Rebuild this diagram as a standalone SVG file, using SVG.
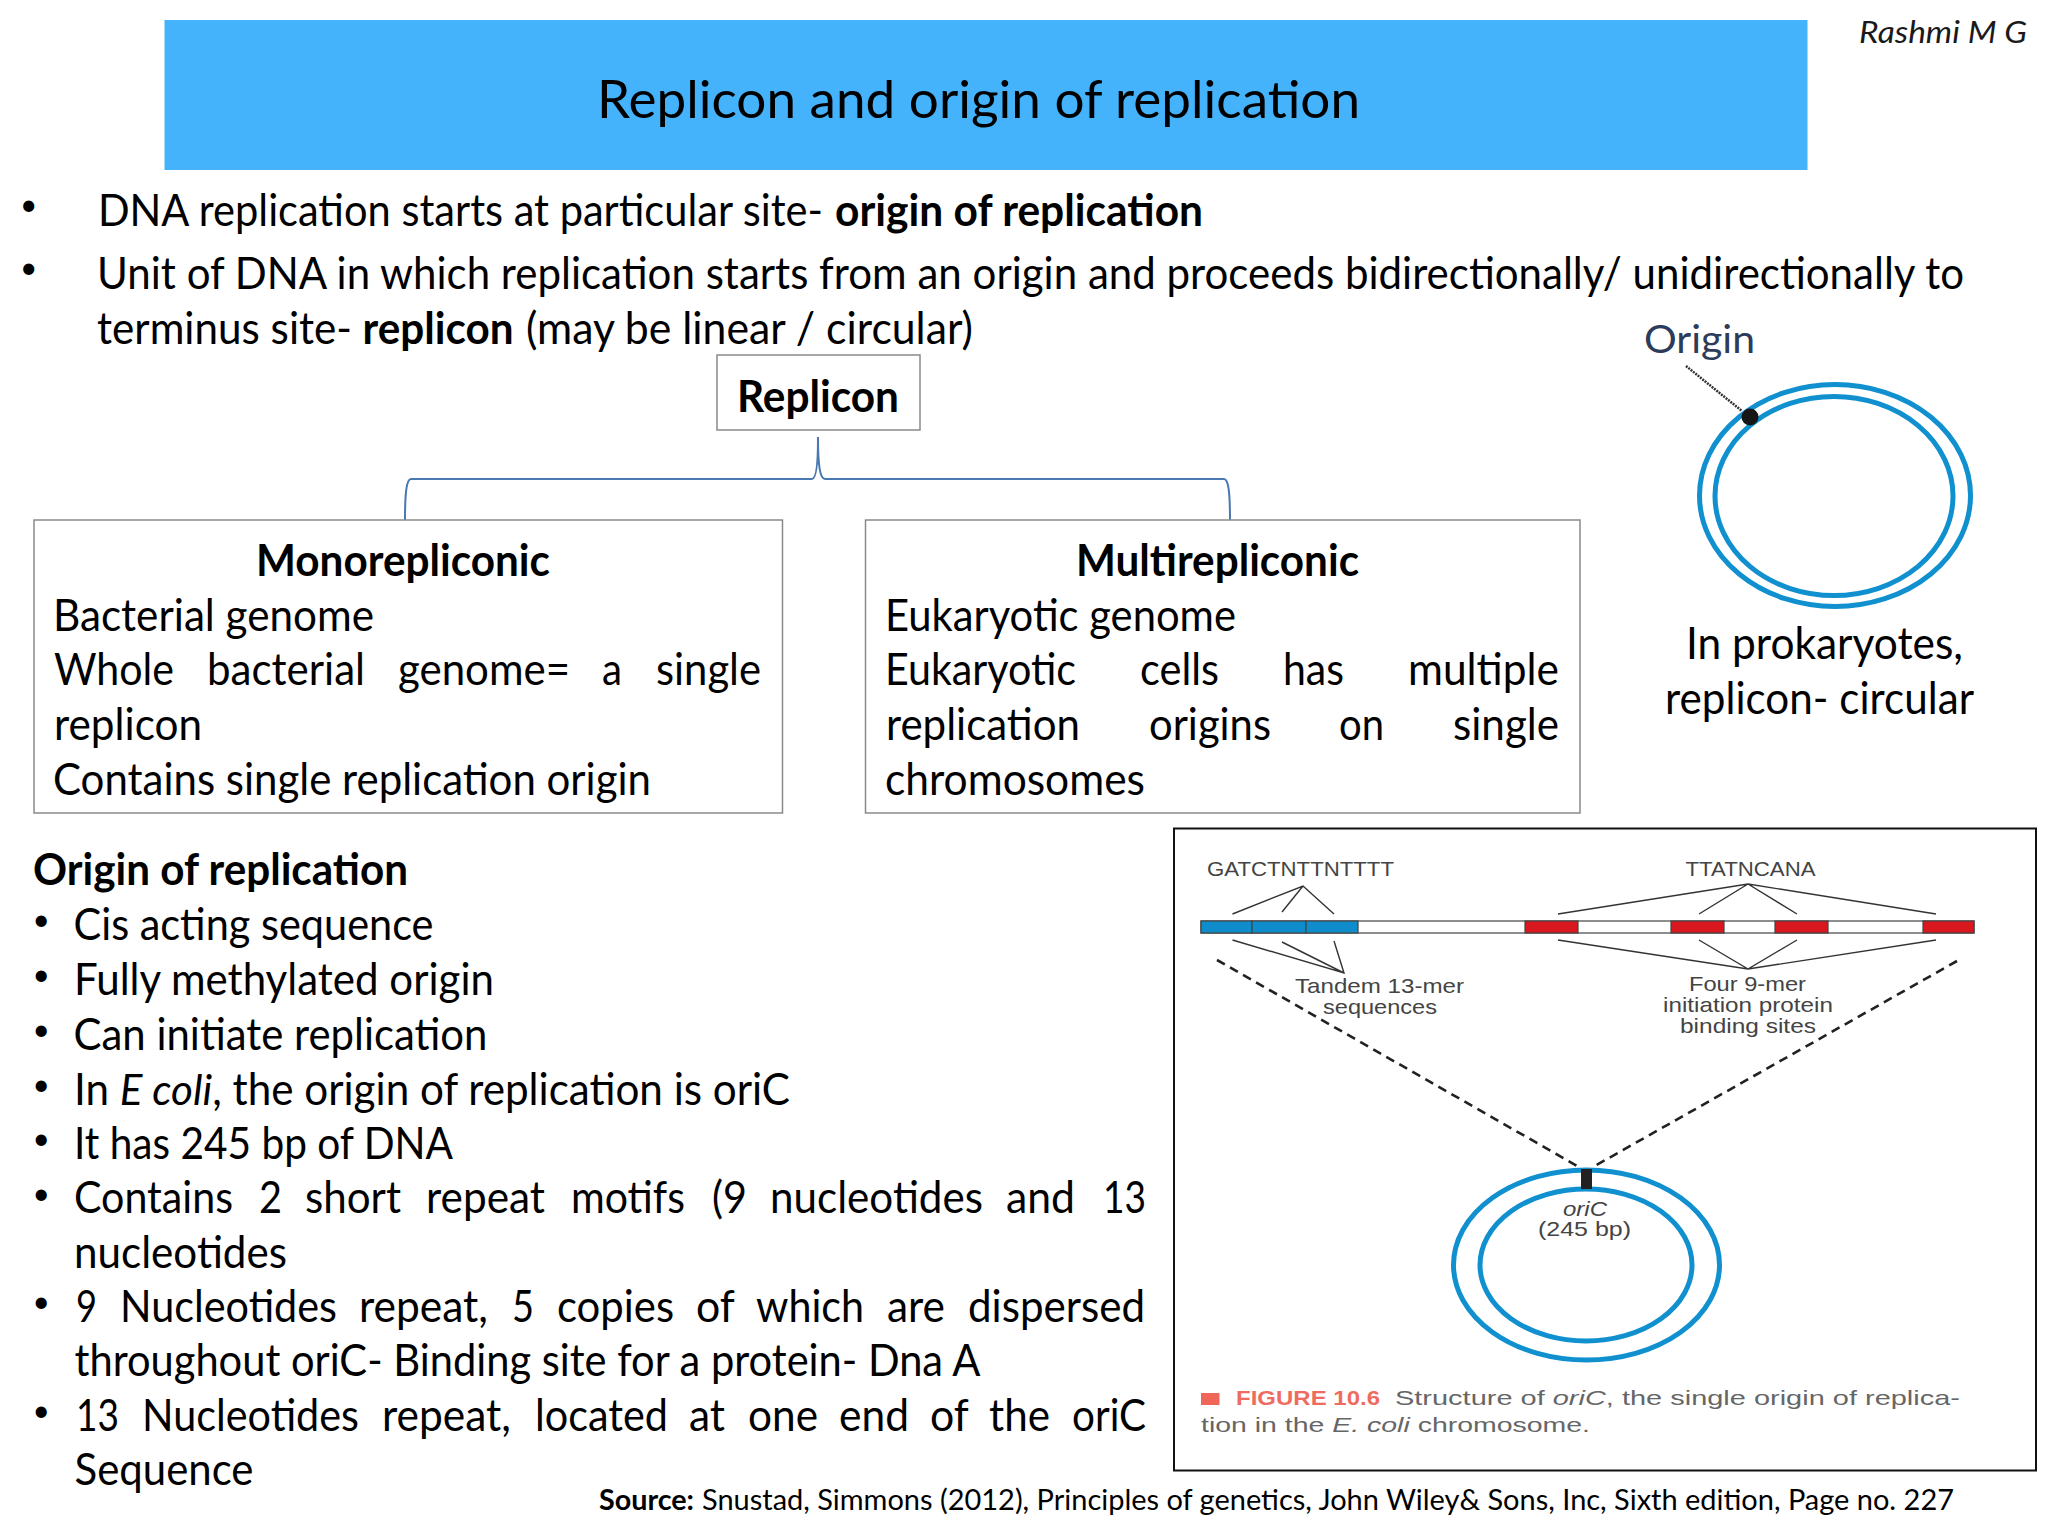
<svg xmlns="http://www.w3.org/2000/svg" width="2048" height="1536" viewBox="0 0 2048 1536">
<style>
text{font-family:"Lato","Carlito","Liberation Sans",sans-serif;fill:#000}
.b{font-size:43.5px}
.d{font-size:30px}
.h{font-weight:700}
.i{font-style:italic}
.box{fill:#fff;stroke:#8a8a8a;stroke-width:1.5}
.fig{font-family:"Liberation Sans",Arial,sans-serif;fill:#444}
.f{font-size:21px}
.cap{font-size:21px;fill:#666}
.thin{fill:none;stroke:#333;stroke-width:1.4}
.dash{fill:none;stroke:#222;stroke-width:2.6;stroke-dasharray:9 6}
.ring{fill:none;stroke:#1090cf;stroke-width:5}
</style>
<rect width="2048" height="1536" fill="#fff"/>
<g id="title"><rect x="164.500" y="20" width="1643" height="150" fill="#45b3fb"/>
<text x="597" y="118" font-size="53" textLength="763" lengthAdjust="spacingAndGlyphs">Replicon and origin of replication</text></g>
<text id="author" class="i" x="1859" y="43" font-size="30" textLength="168" lengthAdjust="spacingAndGlyphs" style="fill:#1a1a1a">Rashmi M G</text>
<g id="intro">
<text class="d" x="20" y="215">•</text>
<text class="b" y="226"><tspan x="98" textLength="725" lengthAdjust="spacingAndGlyphs">DNA replication starts at particular site-</tspan> <tspan class="h" x="835" textLength="368" lengthAdjust="spacingAndGlyphs">origin of replication</tspan></text>
<text class="d" x="20" y="278">•</text>
<text class="b" x="97" y="289" textLength="1867" lengthAdjust="spacingAndGlyphs">Unit of DNA in which replication starts from an origin and proceeds bidirectionally/ unidirectionally to</text>
<text class="b" y="344"><tspan x="97" textLength="255" lengthAdjust="spacingAndGlyphs">terminus site-</tspan> <tspan class="h" x="362.500" textLength="151" lengthAdjust="spacingAndGlyphs">replicon</tspan> <tspan x="526" textLength="447" lengthAdjust="spacingAndGlyphs">(may be linear / circular)</tspan></text>
</g>
<g id="connectors"><path d="M405 520C405 496 406 479 411 479L812 479C816 479 818 465 818 437C818 465 820 479 825 479L1224 479C1229 479 1230 496 1230 520" fill="none" stroke="#4a78b0" stroke-width="2"/></g>
<g id="replicon"><rect class="box" x="717" y="355" width="203" height="75"/>
<text class="b h" x="737" y="412" textLength="162" lengthAdjust="spacingAndGlyphs">Replicon</text></g>
<g id="monorepliconic"><rect class="box" x="34" y="520" width="748.500" height="293"/>
<text class="b h" x="256" y="576" textLength="294" lengthAdjust="spacingAndGlyphs">Monorepliconic</text>
<text class="b" x="53" y="631" textLength="321" lengthAdjust="spacingAndGlyphs">Bacterial genome</text>
<text class="b" y="685"><tspan x="54" textLength="120" lengthAdjust="spacingAndGlyphs">Whole</tspan> <tspan x="207" textLength="158" lengthAdjust="spacingAndGlyphs">bacterial</tspan> <tspan x="398" textLength="172" lengthAdjust="spacingAndGlyphs">genome=</tspan> <tspan x="602" textLength="20" lengthAdjust="spacingAndGlyphs">a</tspan> <tspan x="656" textLength="105" lengthAdjust="spacingAndGlyphs">single</tspan></text>
<text class="b" x="54" y="740" textLength="148" lengthAdjust="spacingAndGlyphs">replicon</text>
<text class="b" x="53" y="795" textLength="598" lengthAdjust="spacingAndGlyphs">Contains single replication origin</text></g>
<g id="multirepliconic"><rect class="box" x="865.500" y="520" width="714.500" height="293"/>
<text class="b h" x="1076" y="576" textLength="283" lengthAdjust="spacingAndGlyphs">Multirepliconic</text>
<text class="b" x="885" y="631" textLength="351" lengthAdjust="spacingAndGlyphs">Eukaryotic genome</text>
<text class="b" y="685"><tspan x="885" textLength="191" lengthAdjust="spacingAndGlyphs">Eukaryotic</tspan> <tspan x="1140" textLength="79" lengthAdjust="spacingAndGlyphs">cells</tspan> <tspan x="1283" textLength="61" lengthAdjust="spacingAndGlyphs">has</tspan> <tspan x="1408" textLength="151" lengthAdjust="spacingAndGlyphs">multiple</tspan></text>
<text class="b" y="740"><tspan x="886" textLength="194" lengthAdjust="spacingAndGlyphs">replication</tspan> <tspan x="1149" textLength="122" lengthAdjust="spacingAndGlyphs">origins</tspan> <tspan x="1339" textLength="45" lengthAdjust="spacingAndGlyphs">on</tspan> <tspan x="1453" textLength="106" lengthAdjust="spacingAndGlyphs">single</tspan></text>
<text class="b" x="885" y="795" textLength="260" lengthAdjust="spacingAndGlyphs">chromosomes</text></g>
<g id="prokaryote">
<text x="1644" y="353" font-size="38" textLength="111" lengthAdjust="spacingAndGlyphs" style="fill:#2d3c5a">Origin</text>
<path d="M1686 366L1742 411" stroke="#333" stroke-width="2.500" stroke-dasharray="2 1" fill="none"/>
<ellipse class="ring" cx="1835" cy="495.500" rx="135.500" ry="111"/>
<ellipse class="ring" cx="1834" cy="496" rx="119" ry="99.500"/>
<circle cx="1750" cy="417" r="8.500" fill="#161616"/>
<text class="b" x="1686" y="659" textLength="277" lengthAdjust="spacingAndGlyphs">In prokaryotes,</text>
<text class="b" x="1665" y="714" textLength="309" lengthAdjust="spacingAndGlyphs">replicon- circular</text></g>
<g id="origin-list">
<text class="b h" x="33" y="885" textLength="375" lengthAdjust="spacingAndGlyphs">Origin of replication</text>
<g>
<text class="d" x="32.500" y="930">•</text><text class="d" x="32.500" y="985">•</text><text class="d" x="32.500" y="1040">•</text><text class="d" x="32.500" y="1095">•</text><text class="d" x="32.500" y="1149">•</text><text class="d" x="32.500" y="1204">•</text><text class="d" x="32.500" y="1312">•</text><text class="d" x="32.500" y="1421">•</text>
</g>
<text class="b" x="73.500" y="940" textLength="360" lengthAdjust="spacingAndGlyphs">Cis acting sequence</text>
<text class="b" x="74" y="995" textLength="420" lengthAdjust="spacingAndGlyphs">Fully methylated origin</text>
<text class="b" x="73.500" y="1050" textLength="414" lengthAdjust="spacingAndGlyphs">Can initiate replication</text>
<text class="b" x="74" y="1104.500" textLength="716" lengthAdjust="spacingAndGlyphs">In <tspan class="i">E coli</tspan>, the origin of replication is oriC</text>
<text class="b" x="74" y="1159" textLength="379" lengthAdjust="spacingAndGlyphs">It has 245 bp of DNA</text>
<text class="b" y="1213"><tspan x="74" textLength="159" lengthAdjust="spacingAndGlyphs">Contains</tspan> <tspan x="259" textLength="23" lengthAdjust="spacingAndGlyphs">2</tspan> <tspan x="305" textLength="96" lengthAdjust="spacingAndGlyphs">short</tspan> <tspan x="426" textLength="119" lengthAdjust="spacingAndGlyphs">repeat</tspan> <tspan x="571" textLength="114" lengthAdjust="spacingAndGlyphs">motifs</tspan> <tspan x="712" textLength="35" lengthAdjust="spacingAndGlyphs">(9</tspan> <tspan x="770" textLength="213" lengthAdjust="spacingAndGlyphs">nucleotides</tspan> <tspan x="1006" textLength="69" lengthAdjust="spacingAndGlyphs">and</tspan> <tspan x="1103" textLength="43" lengthAdjust="spacingAndGlyphs">13</tspan></text>
<text class="b" x="74" y="1268" textLength="213" lengthAdjust="spacingAndGlyphs">nucleotides</text>
<text class="b" y="1322"><tspan x="76" textLength="21" lengthAdjust="spacingAndGlyphs">9</tspan> <tspan x="120" textLength="217" lengthAdjust="spacingAndGlyphs">Nucleotides</tspan> <tspan x="359" textLength="129" lengthAdjust="spacingAndGlyphs">repeat,</tspan> <tspan x="512" textLength="22" lengthAdjust="spacingAndGlyphs">5</tspan> <tspan x="557" textLength="117" lengthAdjust="spacingAndGlyphs">copies</tspan> <tspan x="696" textLength="38" lengthAdjust="spacingAndGlyphs">of</tspan> <tspan x="756" textLength="108" lengthAdjust="spacingAndGlyphs">which</tspan> <tspan x="887" textLength="58" lengthAdjust="spacingAndGlyphs">are</tspan> <tspan x="968" textLength="177" lengthAdjust="spacingAndGlyphs">dispersed</tspan></text>
<text class="b" x="74.500" y="1376" textLength="906" lengthAdjust="spacingAndGlyphs">throughout oriC- Binding site for a protein- Dna A</text>
<text class="b" y="1431"><tspan x="76" textLength="43" lengthAdjust="spacingAndGlyphs">13</tspan> <tspan x="142" textLength="217" lengthAdjust="spacingAndGlyphs">Nucleotides</tspan> <tspan x="382" textLength="129" lengthAdjust="spacingAndGlyphs">repeat,</tspan> <tspan x="535" textLength="133" lengthAdjust="spacingAndGlyphs">located</tspan> <tspan x="689" textLength="36" lengthAdjust="spacingAndGlyphs">at</tspan> <tspan x="748" textLength="70" lengthAdjust="spacingAndGlyphs">one</tspan> <tspan x="839" textLength="70" lengthAdjust="spacingAndGlyphs">end</tspan> <tspan x="930" textLength="38" lengthAdjust="spacingAndGlyphs">of</tspan> <tspan x="989" textLength="61" lengthAdjust="spacingAndGlyphs">the</tspan> <tspan x="1072" textLength="74" lengthAdjust="spacingAndGlyphs">oriC</tspan></text>
<text class="b" x="74.500" y="1485" textLength="179" lengthAdjust="spacingAndGlyphs">Sequence</text>
</g>
<g id="figure">
<rect x="1174" y="828.500" width="862" height="642" fill="#fff" stroke="#111" stroke-width="2"/>
<text class="fig f" x="1207" y="876" textLength="187" lengthAdjust="spacingAndGlyphs">GATCTNTTNTTTT</text>
<text class="fig f" x="1685.500" y="876" textLength="130" lengthAdjust="spacingAndGlyphs">TTATNCANA</text>
<path class="thin" d="M1232.500 914L1303 886L1334 914M1282 912L1303 886M1558 914L1748 884L1936 914M1699 914L1748 884L1797 914M1232.500 940L1344 973L1334 941M1282 942L1344 973M1558 940L1748 969L1936 940M1699 940L1748 969L1797 940"/>
<g stroke="#444" stroke-width="1.200">
<rect x="1201" y="921" width="773" height="12" fill="#fff"/>
<rect x="1201" y="921" width="51" height="12" fill="#0f8ccc"/><rect x="1252" y="921" width="54" height="12" fill="#0f8ccc"/><rect x="1306" y="921" width="52" height="12" fill="#0f8ccc"/>
<rect x="1525" y="921" width="53" height="12" fill="#d8171f"/><rect x="1671" y="921" width="53" height="12" fill="#d8171f"/><rect x="1775" y="921" width="53" height="12" fill="#d8171f"/><rect x="1923" y="921" width="51" height="12" fill="#d8171f"/>
</g>
<path class="dash" d="M1217 960L1579 1167M1957 961L1593 1167"/>
<text class="fig f" x="1295" y="993" textLength="169" lengthAdjust="spacingAndGlyphs">Tandem 13-mer</text>
<text class="fig f" x="1323" y="1014" textLength="114" lengthAdjust="spacingAndGlyphs">sequences</text>
<text class="fig f" x="1689" y="991" textLength="117" lengthAdjust="spacingAndGlyphs">Four 9-mer</text>
<text class="fig f" x="1663" y="1012" textLength="170" lengthAdjust="spacingAndGlyphs">initiation protein</text>
<text class="fig f" x="1680" y="1033" textLength="136" lengthAdjust="spacingAndGlyphs">binding sites</text>
<ellipse class="ring" cx="1586.500" cy="1265" rx="133" ry="95"/>
<ellipse class="ring" cx="1586" cy="1265" rx="106" ry="76"/>
<rect x="1581" y="1169" width="11" height="20" fill="#222"/>
<text class="fig f i" x="1563" y="1216" textLength="44" lengthAdjust="spacingAndGlyphs">oriC</text>
<text class="fig f" x="1538" y="1236" textLength="93" lengthAdjust="spacingAndGlyphs">(245 bp)</text>
<rect x="1201" y="1393" width="18.500" height="12" fill="#f0675a"/>
<text class="fig" x="1236" y="1405" font-size="20" font-weight="700" textLength="144" lengthAdjust="spacingAndGlyphs" style="fill:#ef6b5f">FIGURE 10.6</text>
<text class="fig cap" x="1395" y="1405" style="fill:#666" textLength="565" lengthAdjust="spacingAndGlyphs">Structure of <tspan class="i">oriC</tspan>, the single origin of replica-</text>
<text class="fig cap" x="1201" y="1432" style="fill:#666" textLength="389" lengthAdjust="spacingAndGlyphs">tion in the <tspan class="i">E. coli</tspan> chromosome.</text>
</g>
<text id="source" y="1510" font-size="29"><tspan class="h" x="599" textLength="95" lengthAdjust="spacingAndGlyphs">Source:</tspan> <tspan x="702" textLength="1252" lengthAdjust="spacingAndGlyphs">Snustad, Simmons (2012), Principles of genetics, John Wiley&amp; Sons, Inc, Sixth edition, Page no. 227</tspan></text>
</svg>
